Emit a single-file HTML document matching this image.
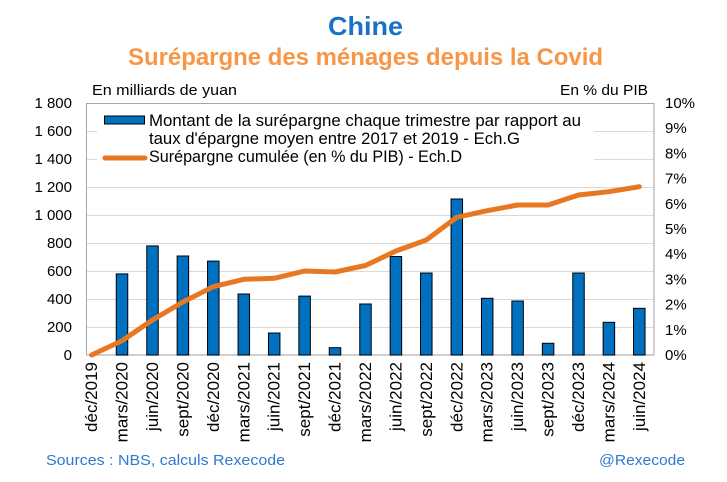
<!DOCTYPE html>
<html><head><meta charset="utf-8"><style>
html,body{margin:0;padding:0;background:#fff;}
svg{display:block;}
text{font-family:"Liberation Sans",Arial,sans-serif;}
</style></head><body>
<svg width="727" height="482" viewBox="0 0 727 482" xmlns="http://www.w3.org/2000/svg">
<rect width="727" height="482" fill="#fff"/>
<!-- titles -->
<text x="328" y="35" font-size="26" font-weight="bold" fill="#1A72C6" textLength="75" lengthAdjust="spacingAndGlyphs">Chine</text>
<text x="128" y="65" font-size="24" font-weight="bold" fill="#F79646" textLength="475" lengthAdjust="spacingAndGlyphs">Surépargne des ménages depuis la Covid</text>
<text x="92" y="95" font-size="15" fill="#000" textLength="145" lengthAdjust="spacingAndGlyphs">En milliards de yuan</text>
<text x="560" y="95" font-size="15" fill="#000" textLength="88" lengthAdjust="spacingAndGlyphs">En % du PIB</text>
<!-- gridlines -->
<g stroke="#D9D9D9" stroke-width="1">
<line x1="86" y1="131.5" x2="654" y2="131.5"/>
<line x1="86" y1="159.5" x2="654" y2="159.5"/>
<line x1="86" y1="187.5" x2="654" y2="187.5"/>
<line x1="86" y1="215.5" x2="654" y2="215.5"/>
<line x1="86" y1="243.5" x2="654" y2="243.5"/>
<line x1="86" y1="271.5" x2="654" y2="271.5"/>
<line x1="86" y1="299.5" x2="654" y2="299.5"/>
<line x1="86" y1="327.5" x2="654" y2="327.5"/>
</g>
<rect x="86.5" y="103.5" width="567.5" height="251.5" fill="none" stroke="#A6A6A6" stroke-width="1"/>
<line x1="86" y1="355" x2="654" y2="355" stroke="#BFBFBF" stroke-width="1.5"/>
<!-- legend box -->
<rect x="97" y="104.5" width="497" height="62" fill="#fff"/>
<rect x="104.5" y="116" width="40" height="8" fill="#0070C0" stroke="#000" stroke-width="1"/>
<line x1="105" y1="158" x2="145" y2="158" stroke="#E87722" stroke-width="5" stroke-linecap="round"/>
<text x="149" y="126" font-size="17" fill="#000" textLength="432" lengthAdjust="spacingAndGlyphs">Montant de la surépargne chaque trimestre par rapport au</text>
<text x="149" y="144" font-size="17" fill="#000" textLength="371" lengthAdjust="spacingAndGlyphs">taux d'épargne moyen entre 2017 et 2019 - Ech.G</text>
<text x="149" y="162" font-size="17" fill="#000" textLength="313" lengthAdjust="spacingAndGlyphs">Surépargne cumulée (en % du PIB) - Ech.D</text>
<!-- bars -->
<g fill="#0070C0" stroke="#000" stroke-width="1">
<rect x="116.25" y="273.9" width="11.5" height="81.1"/>
<rect x="146.75" y="245.9" width="11.5" height="109.1"/>
<rect x="177.15" y="256.0" width="11.5" height="99.0"/>
<rect x="207.55" y="261.1" width="11.5" height="93.9"/>
<rect x="238.05" y="294.0" width="11.5" height="61.0"/>
<rect x="268.45" y="333.0" width="11.5" height="22.0"/>
<rect x="298.85" y="296.1" width="11.5" height="58.9"/>
<rect x="329.25" y="347.7" width="11.5" height="7.3"/>
<rect x="359.75" y="304.0" width="11.5" height="51.0"/>
<rect x="390.15" y="256.5" width="11.5" height="98.5"/>
<rect x="420.55" y="273.0" width="11.5" height="82.0"/>
<rect x="451.05" y="199.0" width="11.5" height="156.0"/>
<rect x="481.45" y="298.3" width="11.5" height="56.7"/>
<rect x="511.85" y="301.0" width="11.5" height="54.0"/>
<rect x="542.35" y="343.3" width="11.5" height="11.7"/>
<rect x="572.75" y="273.0" width="11.5" height="82.0"/>
<rect x="603.15" y="322.3" width="11.5" height="32.7"/>
<rect x="633.55" y="308.3" width="11.5" height="46.7"/>
</g>
<!-- line -->
<polyline fill="none" stroke="#E87722" stroke-width="5" stroke-linejoin="round" stroke-linecap="round"
points="91.6,355 122.0,340.7 152.5,320 182.9,302 213.3,286.7 243.8,279.3 274.2,278.3 304.6,271 335.0,272 365.5,265.5 395.9,251 426.3,240 456.8,217.3 487.2,210.7 517.6,205 548.1,205 578.5,195 608.9,191.7 639.3,186.7"/>
<!-- left axis labels -->
<g font-size="15" fill="#000" text-anchor="end">
<text x="72" y="108">1 800</text>
<text x="72" y="136">1 600</text>
<text x="72" y="164">1 400</text>
<text x="72" y="192">1 200</text>
<text x="72" y="220">1 000</text>
<text x="72" y="248">800</text>
<text x="72" y="276">600</text>
<text x="72" y="304">400</text>
<text x="72" y="332">200</text>
<text x="72" y="360">0</text>
</g>
<!-- right axis labels -->
<g font-size="15" fill="#000">
<text x="665" y="108">10%</text>
<text x="665" y="133.2">9%</text>
<text x="665" y="158.4">8%</text>
<text x="665" y="183.6">7%</text>
<text x="665" y="208.8">6%</text>
<text x="665" y="234">5%</text>
<text x="665" y="259.2">4%</text>
<text x="665" y="284.4">3%</text>
<text x="665" y="309.6">2%</text>
<text x="665" y="334.8">1%</text>
<text x="665" y="360">0%</text>
</g>
<!-- category labels -->
<g font-size="17" fill="#000" text-anchor="end">
<text transform="translate(97.1,362) rotate(-90)">déc/2019</text>
<text transform="translate(127.5,362) rotate(-90)">mars/2020</text>
<text transform="translate(158.0,362) rotate(-90)">juin/2020</text>
<text transform="translate(188.4,362) rotate(-90)">sept/2020</text>
<text transform="translate(218.8,362) rotate(-90)">déc/2020</text>
<text transform="translate(249.3,362) rotate(-90)">mars/2021</text>
<text transform="translate(279.7,362) rotate(-90)">juin/2021</text>
<text transform="translate(310.1,362) rotate(-90)">sept/2021</text>
<text transform="translate(340.5,362) rotate(-90)">déc/2021</text>
<text transform="translate(371.0,362) rotate(-90)">mars/2022</text>
<text transform="translate(401.4,362) rotate(-90)">juin/2022</text>
<text transform="translate(431.8,362) rotate(-90)">sept/2022</text>
<text transform="translate(462.3,362) rotate(-90)">déc/2022</text>
<text transform="translate(492.7,362) rotate(-90)">mars/2023</text>
<text transform="translate(523.1,362) rotate(-90)">juin/2023</text>
<text transform="translate(553.6,362) rotate(-90)">sept/2023</text>
<text transform="translate(584.0,362) rotate(-90)">déc/2023</text>
<text transform="translate(614.4,362) rotate(-90)">mars/2024</text>
<text transform="translate(644.8,362) rotate(-90)">juin/2024</text>
</g>
<!-- sources -->
<text x="46" y="465" font-size="15" fill="#2F7AD0" textLength="239" lengthAdjust="spacingAndGlyphs">Sources : NBS, calculs Rexecode</text>
<text x="599" y="465" font-size="15" fill="#2F7AD0" textLength="86" lengthAdjust="spacingAndGlyphs">@Rexecode</text>
</svg>
</body></html>
